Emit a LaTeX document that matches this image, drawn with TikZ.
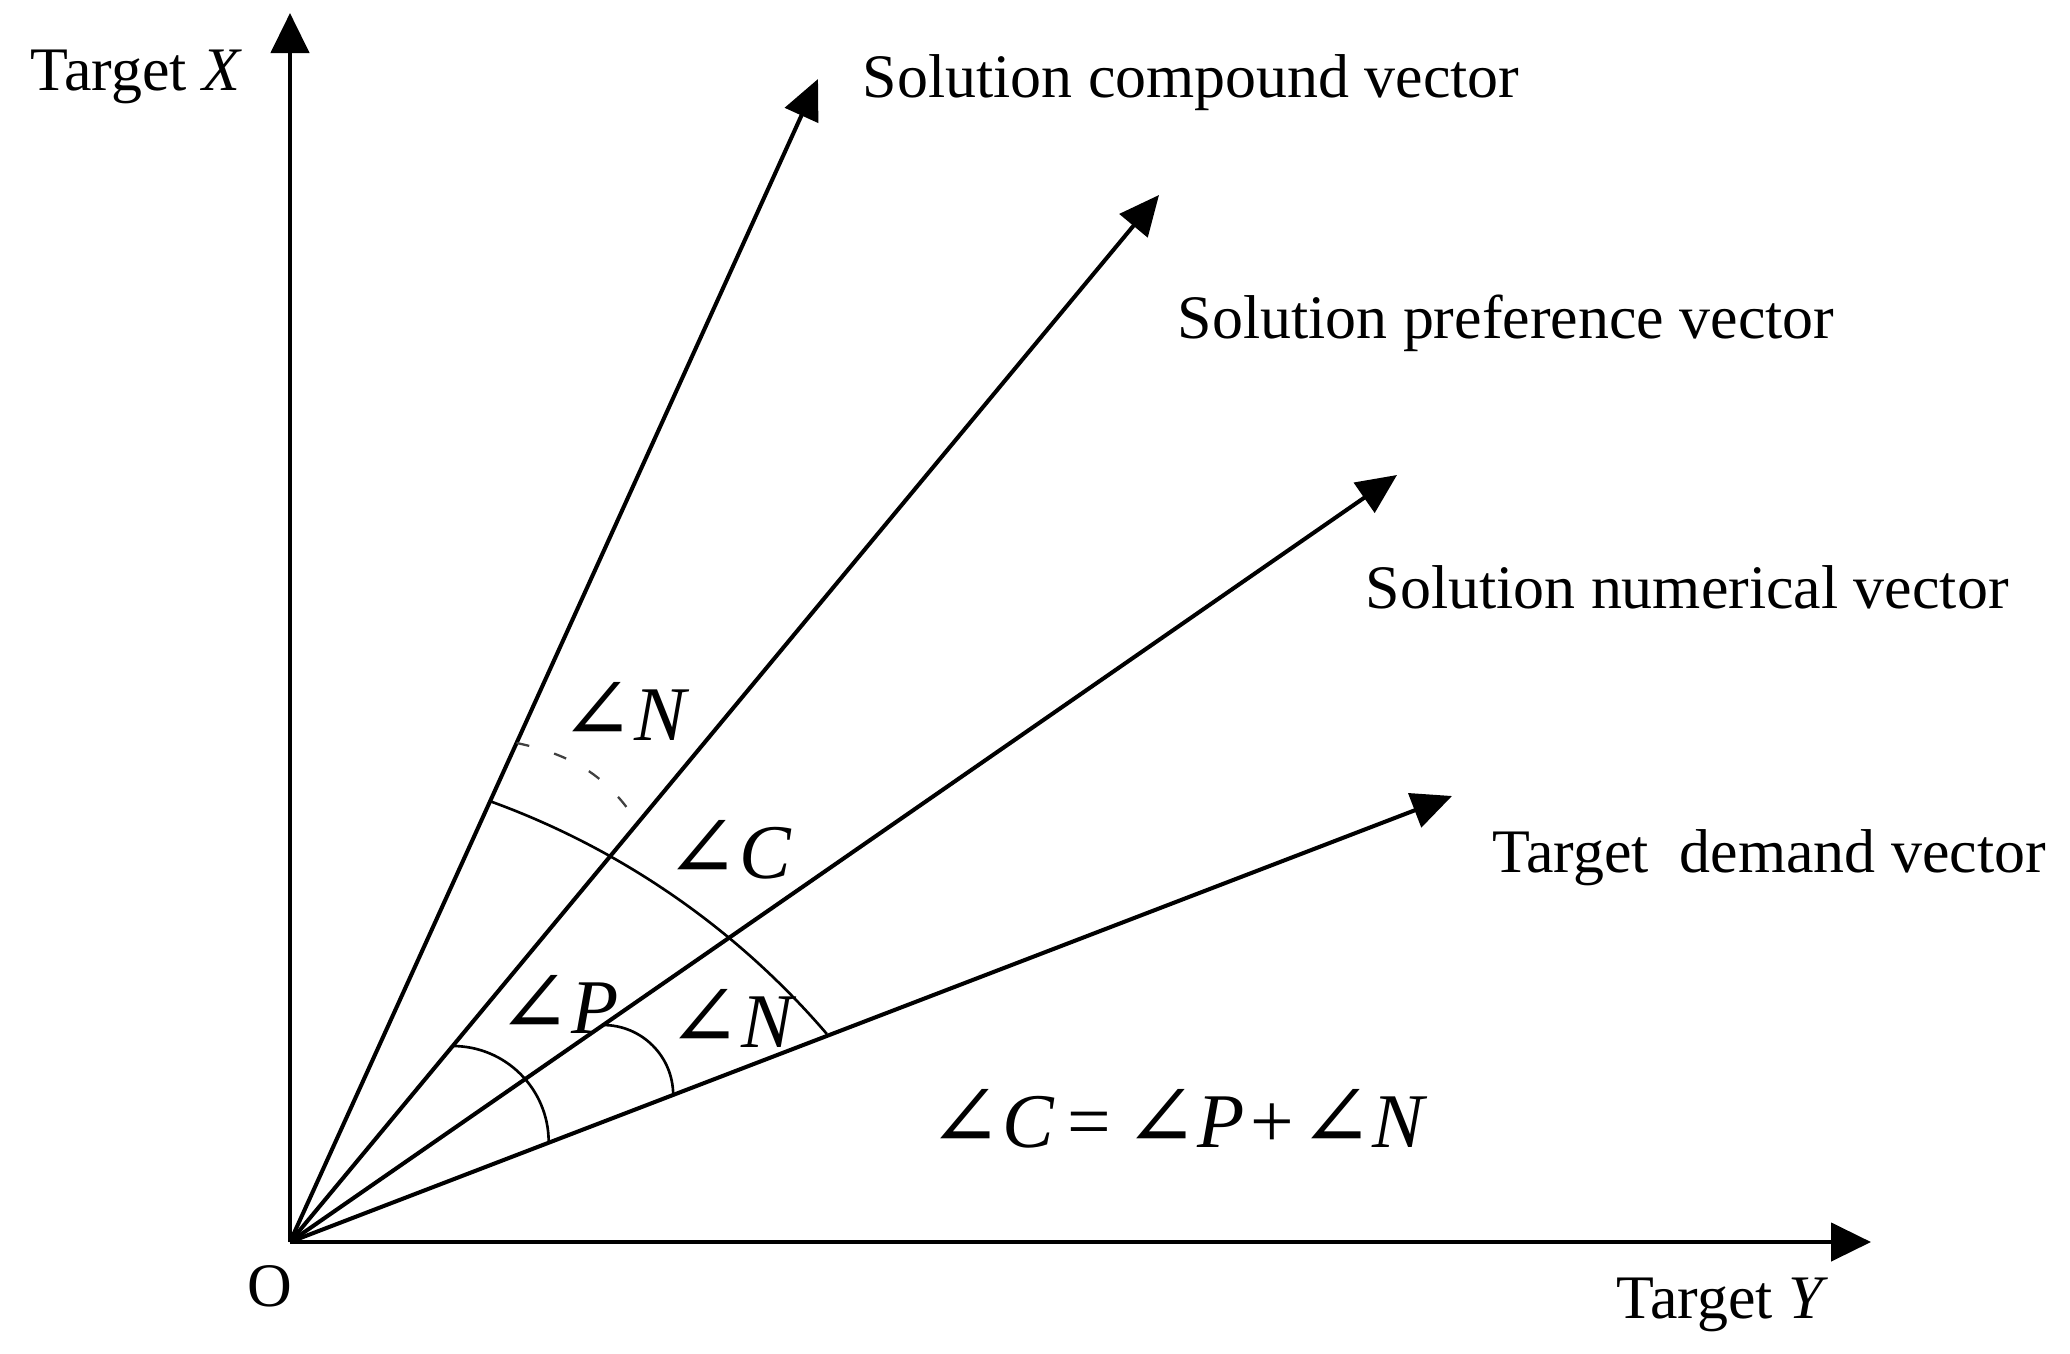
\documentclass[tikz,border=0pt]{standalone}
\usepackage{fontspec}
\setmainfont{Liberation Serif}
\newfontfamily\angfont{DejaVu Serif}
\usetikzlibrary{arrows.meta,calc}
\newcommand{\myang}{{\angfont\fontsize{25}{30}\selectfont\symbol{"2220}}}
\begin{document}
\begin{tikzpicture}[x=0.01cm,y=0.01cm,
  axisline/.style={line width=1.3pt,-{Triangle[length=4mm,width=3.8mm]}},
  vecline/.style={line width=1.15pt,-{Triangle[length=4mm,width=3.6mm]}},
  arcline/.style={line width=0.75pt},
  dashedarc/.style={line width=0.65pt,draw=black!75,dash pattern=on 0.13cm off 0.26cm},
  lbl/.style={anchor=base west,inner sep=0pt,font=\fontsize{17.6}{20}\selectfont},
  mlbl/.style={anchor=base west,inner sep=0pt,font=\fontsize{22}{26}\selectfont}]
\useasboundingbox (0,0) rectangle (2070,1353);
% origin and tips
\coordinate (O) at (290,111);
\coordinate (xtip) at (290,1340);
\coordinate (ytip) at (1871,111);
\coordinate (ctip) at (818,1274);
\coordinate (ptip) at (1159,1158);
\coordinate (ntip) at (1397,878);
\coordinate (dtip) at (1452,557);
% axes
\draw[axisline] (O) -- (xtip);
\draw[axisline] (O) -- (ytip);
% vectors
\draw[vecline] (O) -- (ctip);
\draw[vecline] (O) -- (ptip);
\draw[vecline] (O) -- (ntip);
\draw[vecline] (O) -- (dtip);
% arcs
\coordinate (bigA) at ($(O)!0.379!(ctip)$);
\draw[arcline] (bigA) arc[start angle=70.1,end angle=40.6,radius=804];
\coordinate (pA) at ($(O)!0.1872!(ptip)$);
\draw[arcline] (pA) arc[start angle=90,end angle=0,radius=96];
\coordinate (nA) at ($(O)!0.2829!(ntip)$);
\draw[arcline] (nA) arc[start angle=90,end angle=0,radius=70];
\coordinate (dA) at ($(O)!0.4291!(ctip)$);
\coordinate (dB) at ($(O)!0.4002!(ptip)$);
\draw[dashedarc] (dA) to[out=-12,in=123] (dB);
% text labels
\node[lbl] (tx) at (30,1262) {Target \textit{X}};
\node[lbl] (lc) at (862,1255) {Solution compound vector};
\node[lbl] (lp) at (1177,1015) {Solution preference vector};
\node[lbl] (ln) at (1365,745) {Solution numerical vector};
\node[lbl] (ld) at (1492,481) {Target~~demand vector};
\node[lbl] (ty) at (1616,35) {Target \textit{Y}};
\node[lbl] (lo) at (247,47) {O};
% angle labels
\node[mlbl] (aN1) at (560,613) {\myang\textit{N}};
\node[mlbl] (aC) at (665,475) {\myang\textit{C}};
\node[mlbl] (aP) at (497,320) {\myang\textit{P}};
\node[mlbl] (aN2) at (667,306) {\myang\textit{N}};
\node[mlbl] (eq) at (928,206) {\myang\textit{C}\,=\,\myang\textit{P}\hspace{1.5pt}+\hspace{1.5pt}\myang\textit{N}};
\end{tikzpicture}
\end{document}
